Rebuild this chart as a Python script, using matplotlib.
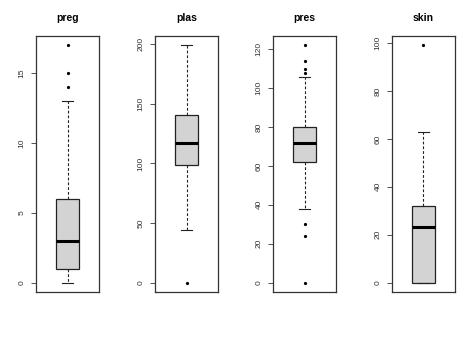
import matplotlib
matplotlib.use("Agg")
import matplotlib.pyplot as plt

plt.rcParams["font.family"] = ["Liberation Sans", "DejaVu Sans"]

# five-number summaries per variable
names = ["preg", "plas", "pres", "skin"]
q1 = [1, 99, 62, 0]
median = [3, 117, 72, 23]
q3 = [6, 140.25, 80, 32]
whis_lo = [0, 44, 38, 0]
whis_hi = [13, 199, 106, 63]
outliers = [
    [14, 15, 17],
    [0],
    [0, 24, 30, 108, 110, 114, 122],
    [99],
]
yticks = [
    [0, 5, 10, 15],
    [0, 50, 100, 150, 200],
    [0, 20, 40, 60, 80, 100, 120],
    [0, 20, 40, 60, 80, 100],
]

W, H = 474, 338
fig = plt.figure(figsize=(W / 100, H / 100), dpi=100)

lefts = [36, 155, 273, 392]
top, bottom, width = 36, 292, 63

for i, name in enumerate(names):
    ax = fig.add_axes([lefts[i] / W, (H - bottom) / H, width / W, (bottom - top) / H])
    stats = [{
        "med": median[i], "q1": q1[i], "q3": q3[i],
        "whislo": whis_lo[i], "whishi": whis_hi[i],
        "fliers": outliers[i], "label": name,
    }]
    ax.bxp(stats, positions=[1], widths=0.37, patch_artist=True,
           boxprops=dict(facecolor="#d3d3d3", edgecolor="#222222", linewidth=0.9),
           medianprops=dict(color="black", linewidth=2.2),
           whiskerprops=dict(color="#222222", linestyle=(0, (2.5, 1.8)), linewidth=0.8),
           capprops=dict(color="#222222", linewidth=0.8),
           flierprops=dict(marker="o", markersize=1.3, markerfacecolor="black",
                           markeredgecolor="black"))
    lo = min([whis_lo[i]] + outliers[i])
    hi = max([whis_hi[i]] + outliers[i])
    pad = (hi - lo) * 0.04
    ax.set_ylim(lo - pad, hi + pad)
    ax.set_xlim(0.5, 1.5)
    ax.set_xticks([])
    ax.set_yticks(yticks[i])
    ax.set_yticklabels([str(t) for t in yticks[i]], rotation=90, va="center",
                       fontsize=6, color="#333333")
    ax.tick_params(axis="y", length=3.5, width=0.6, pad=4, colors="#333333",
                   labelcolor="#333333")
    for s in ax.spines.values():
        s.set_color("#333333")
        s.set_linewidth(0.9)
    ax.set_title(name, fontsize=7.5, fontweight="bold", pad=11)

fig.savefig("out.png", dpi=100, facecolor="white")
